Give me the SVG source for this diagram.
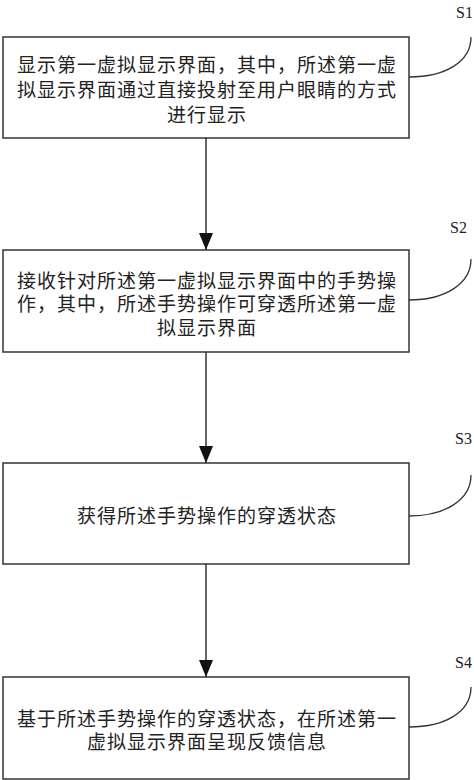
<svg xmlns="http://www.w3.org/2000/svg" width="474" height="780" viewBox="0 0 474 780">
<style>
.box{fill:#fff;stroke:#333;stroke-width:1.5}
.t{font-family:"Noto Sans CJK SC","Noto Sans",sans-serif;font-size:19px;letter-spacing:1px;fill:#222;text-anchor:middle;dominant-baseline:central}
.lbl{font-family:"Liberation Serif",serif;font-size:16px;fill:#222;dominant-baseline:central}
.conn{fill:none;stroke:#333;stroke-width:1.5}
.lead{fill:none;stroke:#333;stroke-width:1.3}
</style>
<defs>
<marker id="ah" markerWidth="17" markerHeight="14" refX="17" refY="7" orient="auto" markerUnits="userSpaceOnUse" viewBox="0 0 17 14">
<path d="M0,0 L17,7 L0,14 Z" fill="#111"/>
</marker>
</defs>
<rect width="474" height="780" fill="#fff"/>
<g id="connectors">
<line class="conn" x1="206" y1="138" x2="206" y2="250" marker-end="url(#ah)"/>
<line class="conn" x1="206" y1="352" x2="206" y2="463" marker-end="url(#ah)"/>
<line class="conn" x1="206" y1="564" x2="206" y2="677" marker-end="url(#ah)"/>
</g>
<g id="n1">
<rect class="box" x="3" y="37" width="406" height="101"/>
<text class="t" x="207" y="63">显示第一虚拟显示界面，其中，所述第一虚</text>
<text class="t" x="207" y="88">拟显示界面通过直接投射至用户眼睛的方式</text>
<text class="t" x="207" y="113">进行显示</text>
</g>
<g id="n2">
<rect class="box" x="3" y="250" width="406" height="102"/>
<text class="t" x="207" y="279">接收针对所述第一虚拟显示界面中的手势操</text>
<text class="t" x="207" y="302">作，其中，所述手势操作可穿透所述第一虚</text>
<text class="t" x="207" y="326">拟显示界面</text>
</g>
<g id="n3">
<rect class="box" x="3" y="463" width="406" height="101"/>
<text class="t" x="207" y="514">获得所述手势操作的穿透状态</text>
</g>
<g id="n4">
<rect class="box" x="3" y="677" width="406" height="102"/>
<text class="t" x="207" y="717">基于所述手势操作的穿透状态，在所述第一</text>
<text class="t" x="207" y="740">虚拟显示界面呈现反馈信息</text>
</g>
<g id="s1">
<path class="lead" d="M409,77 C445,77 471,62 471,37"/>
<text class="lbl" x="456" y="12">S1</text>
</g>
<g id="s2">
<path class="lead" d="M409,300 C445,300 471,284 471,259"/>
<text class="lbl" x="450" y="227">S2</text>
</g>
<g id="s3">
<path class="lead" d="M409,516 C445,516 471,500 471,475"/>
<text class="lbl" x="455" y="438">S3</text>
</g>
<g id="s4">
<path class="lead" d="M409,727 C445,727 471,712 471,687"/>
<text class="lbl" x="455" y="662">S4</text>
</g>
</svg>
